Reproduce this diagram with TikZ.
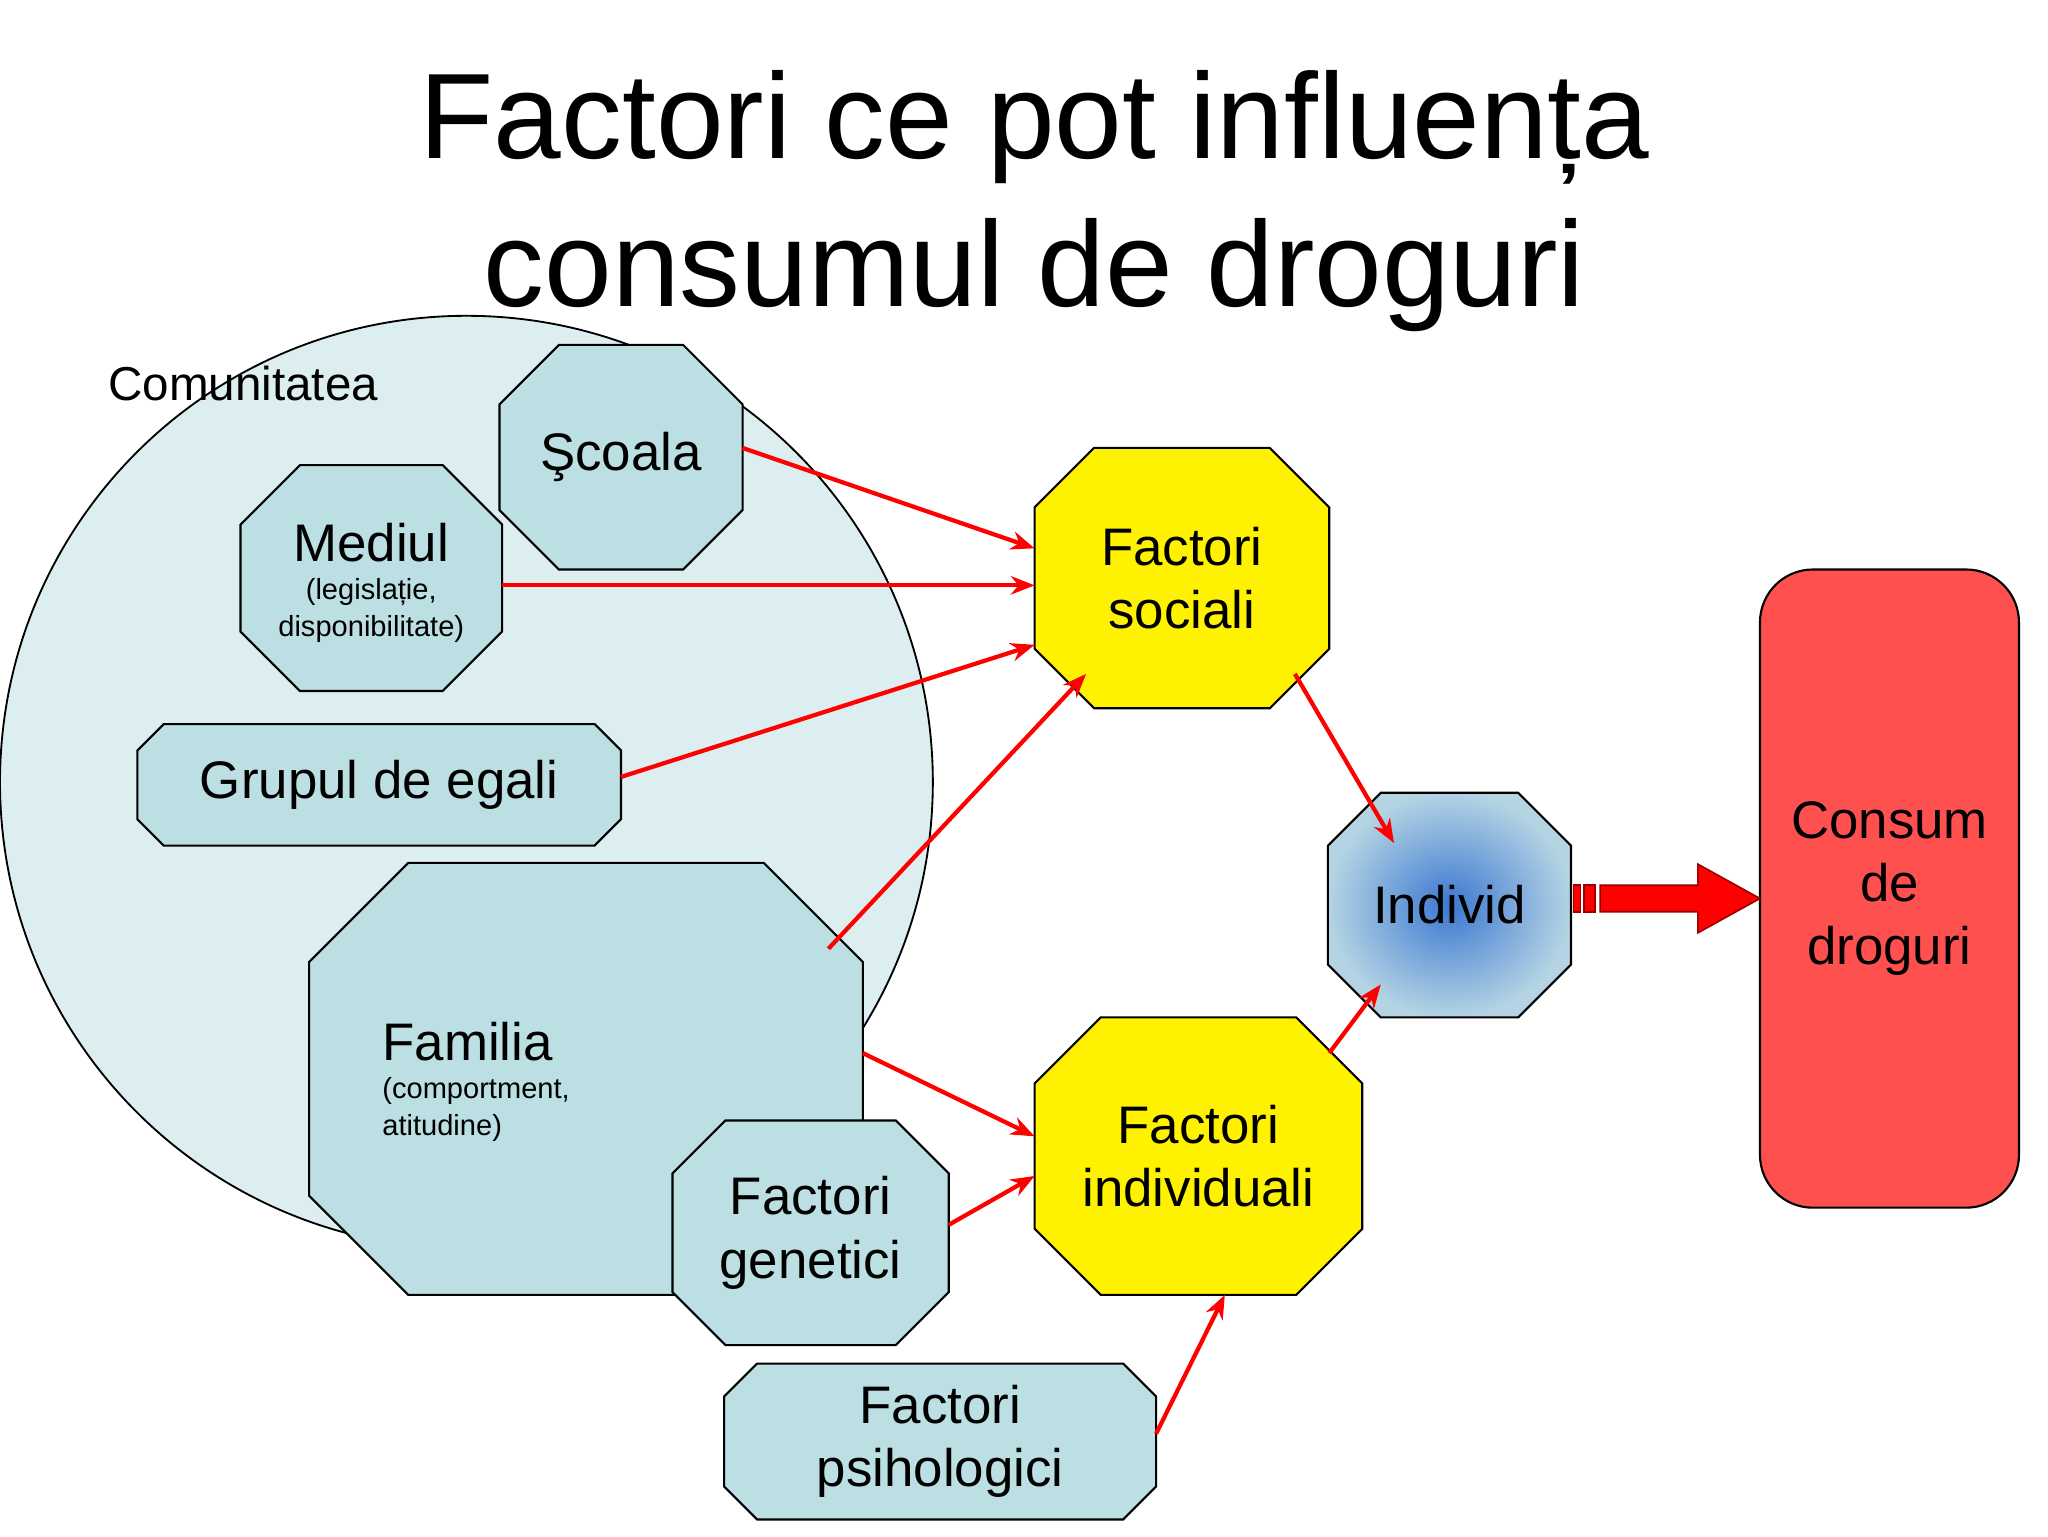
\documentclass[tikz,border=0pt]{standalone}
\usepackage{fontspec}
\setmainfont{Liberation Sans}
\usetikzlibrary{arrows.meta}
\begin{document}
\begin{tikzpicture}[x=0.5pt,y=-0.5pt,
  octline/.style={draw=black,line width=0.8pt},
  octtext/.style={align=center,font=\fontsize{20}{24}\selectfont},
  rarr/.style={draw=red,line width=1.6pt,-{Stealth[length=9pt,width=7pt]}}]
\definecolor{boxc}{HTML}{BCDFE3}
\definecolor{circc}{HTML}{DDEEF0}
\definecolor{redc}{HTML}{FF5050}
\definecolor{indout}{HTML}{B4D4E4}
\definecolor{indin}{HTML}{3C78D0}
\useasboundingbox (0,0) rectangle (1550,1163);
\fill[white] (0,0) rectangle (1550,1163);
\draw[fill=circc,line width=0.7pt] (353,592) circle [radius=353];
\node[anchor=west,font=\fontsize{18}{20}\selectfont] (com) at (75,290) {Comunitatea};
\node[font=\fontsize{46}{56}\selectfont,align=center] (title) at (783,152) {Factori ce pot influența\\consumul de droguri};
\def\oc#1#2#3#4#5#6#7#8{%
  \path[octline,#7] ({#2+#6},#3) -- ({#4-#6},#3) -- (#4,{#3+#6}) -- (#4,{#5-#6}) -- ({#4-#6},#5) -- ({#2+#6},#5) -- (#2,{#5-#6}) -- (#2,{#3+#6}) -- cycle;
  \node[octtext] (#1) at ({(#2+#4)/2},{(#3+#5)/2}) {#8};}
\oc{scoala}{378}{261}{562}{431}{45}{fill=boxc}{Şcoala}
\oc{mediul}{182}{352}{380}{523}{45}{fill=boxc}{}
\node[font=\fontsize{20}{24}\selectfont] (med1) at (281,411) {Mediul};
\node[font=\fontsize{11}{14}\selectfont,align=center] (med2) at (281,462) {(legislație,\\disponibilitate)};
\oc{grup}{104}{548}{470}{640}{20}{fill=boxc}{Grupul de egali}
\oc{fam}{234}{653}{653}{980}{75}{fill=boxc}{}
\node[anchor=north west,font=\fontsize{20}{24}\selectfont,inner sep=0pt] (fam1) at (289,773) {Familia};
\node[anchor=north west,font=\fontsize{11}{14}\selectfont,align=left,inner sep=0pt] (fam2) at (289,815) {(comportment,\\atitudine)};
\oc{gen}{509}{848}{718}{1018}{40}{fill=boxc}{Factori\\genetici}
\oc{psi}{548}{1032}{875}{1150}{25}{fill=boxc}{Factori\\psihologici}
\oc{soc}{783}{339}{1006}{536}{45}{fill=yellow}{Factori\\sociali}
\oc{ind}{783}{770}{1031}{980}{50}{fill=yellow}{Factori\\individuali}
\oc{individ}{1005}{600}{1189}{770}{40}{inner color=indin,outer color=indout}{Individ}
\node[draw=black,line width=0.8pt,fill=redc,rounded corners=20pt,minimum width=98pt,minimum height=241.5pt,align=center,font=\fontsize{20}{24}\selectfont] (cons) at (1430,672.5) {Consum\\de\\droguri};
\draw[rarr] (562,339) -- (783,415);
\draw[rarr] (380,443) -- (783,443);
\draw[rarr] (470,588) -- (783,488);
\draw[rarr] (627,718) -- (822,510);
\draw[rarr] (980,510) -- (1055,638);
\draw[rarr] (653,797) -- (783,860);
\draw[rarr] (718,927) -- (783,890);
\draw[rarr] (875,1085) -- (927,980);
\draw[rarr] (1006,797) -- (1045,745);
\fill[red,draw=red!60!black,line width=0.6pt] (1191,670) rectangle (1196,690);
\fill[red,draw=red!60!black,line width=0.6pt] (1199,670) rectangle (1207,690);
\filldraw[fill=red,draw=red!60!black,line width=0.6pt] (1211,670) -- (1285,670) -- (1285,654) -- (1332,680) -- (1285,706) -- (1285,690) -- (1211,690) -- cycle;
\end{tikzpicture}
\end{document}
